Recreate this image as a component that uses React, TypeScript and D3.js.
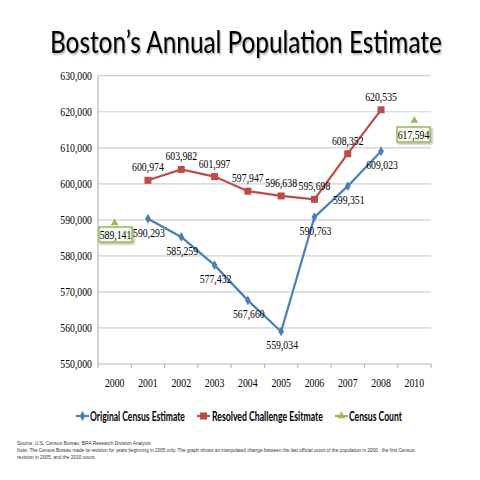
import React, { useEffect, useRef } from 'react';
import * as d3 from 'd3';

const years = ['2000', '2001', '2002', '2003', '2004', '2005', '2006', '2007', '2008', '2010'];
const originalYears = ['2001', '2002', '2003', '2004', '2005', '2006', '2007', '2008'];
const originalValues = [590293, 585259, 577432, 567660, 559034, 590763, 599351, 609023];
const resolvedValues = [600974, 603982, 601997, 597947, 596638, 595698, 608352, 620535];
const censusYears = ['2000', '2010'];
const censusValues = [589141, 617594];
const yTicks = [550000, 560000, 570000, 580000, 590000, 600000, 610000, 620000, 630000];

const BLUE = '#4a7ebb';
const RED = '#be4b48';
const GREEN = '#98b954';
const SERIF = '"Liberation Serif", "Times New Roman", serif';
const SANS = 'Lato, "Open Sans", sans-serif';

const App: React.FC = () => {
  const svgRef = useRef<SVGSVGElement>(null);

  useEffect(() => {
    if (!svgRef.current) return;
    const svg = d3.select(svgRef.current);
    svg.selectAll('*').remove();

    const width = 480;
    const height = 480;
    const left = 98, right = 431, top = 75.7, bottom = 364;

    svg.attr('width', width).attr('height', height);
    svg.append('rect').attr('width', width).attr('height', height).attr('fill', '#fff');

    const defs = svg.append('defs');
    const sh = defs.append('filter').attr('id', 'title-shadow').attr('x', '-5%').attr('y', '-30%').attr('width', '110%').attr('height', '170%');
    sh.append('feDropShadow').attr('dx', 1.5).attr('dy', 1.5).attr('stdDeviation', 1).attr('flood-color', '#000').attr('flood-opacity', 0.35);
    const bs = defs.append('filter').attr('id', 'box-shadow').attr('x', '-20%').attr('y', '-30%').attr('width', '150%').attr('height', '170%');
    bs.append('feDropShadow').attr('dx', 1.5).attr('dy', 1.5).attr('stdDeviation', 0.8).attr('flood-color', '#000').attr('flood-opacity', 0.3);

    // text squeezed horizontally to a target width (left edge at tx)
    const fitText = (tx: number, ty: number, w: number, str: string, attrs: Record<string, any>) => {
      const g = svg.append('g');
      const t = g.append('text').text(str);
      Object.entries(attrs).forEach(([k, v]) => t.attr(k, v));
      const len = (t.node() as SVGTextElement).getComputedTextLength() || w;
      g.attr('transform', `translate(${tx},${ty}) scale(${w / len},1)`);
      return g;
    };

    // Title
    fitText(50, 53, 392, 'Boston\u2019s Annual Population Estimate', {
      'font-family': SANS, 'font-size': 31, fill: '#000', filter: 'url(#title-shadow)',
    });

    const x = d3.scaleBand().domain(years).range([left, right]);
    const y = d3.scaleLinear().domain([550000, 630000]).range([bottom, top]);
    const cx = (d: string) => (x(d) as number) + x.bandwidth() / 2;
    const fmt = d3.format(',');

    // Gridlines
    svg.append('g').selectAll('line').data(yTicks.slice(1)).join('line')
      .attr('x1', left).attr('x2', right)
      .attr('y1', d => y(d)).attr('y2', d => y(d))
      .attr('stroke', '#d0d0d0').attr('stroke-width', 1.2);

    // Axes lines
    svg.append('line').attr('x1', left).attr('x2', left).attr('y1', top).attr('y2', bottom)
      .attr('stroke', '#b8b8b8').attr('stroke-width', 1.2);
    svg.append('line').attr('x1', left).attr('x2', right).attr('y1', bottom).attr('y2', bottom)
      .attr('stroke', '#b8b8b8').attr('stroke-width', 1.2);

    // x tick marks at band boundaries
    const bounds = years.map(d => x(d) as number).concat([right]);
    svg.append('g').selectAll('line').data(bounds).join('line')
      .attr('x1', d => d).attr('x2', d => d)
      .attr('y1', bottom).attr('y2', bottom + 4)
      .attr('stroke', '#b8b8b8').attr('stroke-width', 1.2);

    // Compressed serif text helper
    const serifText = (g: any, tx: number, ty: number, str: string, anchor: string) => {
      g.append('g')
        .attr('transform', `translate(${tx},${ty}) scale(0.85,1)`)
        .append('text')
        .attr('text-anchor', anchor)
        .attr('font-family', SERIF)
        .attr('font-size', 11.5)
        .attr('fill', '#000')
        .text(str);
    };

    // y labels
    const yl = svg.append('g');
    yTicks.forEach(t => serifText(yl, 92, y(t) + 4, fmt(t), 'end'));

    // x labels
    const xl = svg.append('g');
    years.forEach(yr => serifText(xl, cx(yr), 387, yr, 'middle'));

    // Lines
    const line = d3.line<[string, number]>().x(d => cx(d[0])).y(d => y(d[1]));
    const orig: [string, number][] = originalYears.map((d, i) => [d, originalValues[i]]);
    const res: [string, number][] = originalYears.map((d, i) => [d, resolvedValues[i]]);

    svg.append('path').datum(res).attr('d', line).attr('fill', 'none').attr('stroke', RED).attr('stroke-width', 2.2);
    svg.append('path').datum(orig).attr('d', line).attr('fill', 'none').attr('stroke', BLUE).attr('stroke-width', 2.2);

    // Markers
    svg.append('g').selectAll('rect').data(res).join('rect')
      .attr('x', d => cx(d[0]) - 3.5).attr('y', d => y(d[1]) - 3.5)
      .attr('width', 7).attr('height', 7).attr('fill', RED);
    const diamond = d3.symbol().type(d3.symbolDiamond).size(28);
    svg.append('g').selectAll('path').data(orig).join('path')
      .attr('transform', d => `translate(${cx(d[0])},${y(d[1])})`)
      .attr('d', diamond).attr('fill', BLUE);
    const tri = d3.symbol().type(d3.symbolTriangle).size(26);
    svg.append('g').selectAll('path').data(censusYears).join('path')
      .attr('transform', (d, i) => `translate(${cx(d)},${y(censusValues[i])})`)
      .attr('d', tri).attr('fill', GREEN);

    // Data labels
    const labels = svg.append('g');
    res.forEach(d => serifText(labels, cx(d[0]), y(d[1]) - 9, fmt(d[1]), 'middle'));
    orig.forEach(d => serifText(labels, cx(d[0]) + 1, y(d[1]) + 18, fmt(d[1]), 'middle'));

    // Census boxed labels
    const boxes = [
      { v: censusValues[0], bx: 99, by: 227 },
      { v: censusValues[1], bx: 397, by: 127 },
    ];
    boxes.forEach(b => {
      const bg = svg.append('g');
      bg.append('rect')
        .attr('x', b.bx).attr('y', b.by).attr('width', 33).attr('height', 15)
        .attr('fill', '#f7faf0').attr('stroke', GREEN).attr('stroke-width', 1.5)
        .attr('filter', 'url(#box-shadow)');
      serifText(bg, b.bx + 16.5, b.by + 11.5, fmt(b.v), 'middle');
    });

    // Legend
    const legend = [
      { label: 'Original Census Estimate', color: BLUE, x0: 76, tx: 90, tw: 95, m: 'diamond' },
      { label: 'Resolved Challenge Esitmate', color: RED, x0: 197, tx: 212, tw: 111, m: 'square' },
      { label: 'Census Count', color: GREEN, x0: 335, tx: 349, tw: 53, m: 'triangle' },
    ];
    const ly = 416;
    legend.forEach(l => {
      svg.append('line').attr('x1', l.x0).attr('x2', l.x0 + 13).attr('y1', ly).attr('y2', ly)
        .attr('stroke', l.color).attr('stroke-width', 2.2);
      const mx = l.x0 + 6.5;
      if (l.m === 'square') {
        svg.append('rect').attr('x', mx - 3.5).attr('y', ly - 3.5).attr('width', 7).attr('height', 7).attr('fill', l.color);
      } else {
        svg.append('path').attr('transform', `translate(${mx},${ly})`)
          .attr('d', l.m === 'diamond' ? diamond : tri).attr('fill', l.color);
      }
      fitText(l.tx, ly + 4.5, l.tw, l.label, {
        'font-family': SANS, 'font-weight': 700, 'font-size': 13, fill: '#000',
      });
    });

    // Footnotes
    const notes = [
      { t: 'Source: U.S. Census Bureau; BRA Research Division Analysis', w: 134 },
      { t: 'Note: The Census Bureau made its revision for years beginning in 2005 only.  The graph shows an interpolated change between the last official count of the population in 2000 , the first Census', w: 398 },
      { t: 'revision in 2005, and the 2010  count.', w: 79 },
    ];
    notes.forEach((n, i) => {
      fitText(17, 445 + i * 7.2, n.w, n.t, {
        'font-family': '"Liberation Sans", Arial, sans-serif', 'font-size': 5.6, fill: '#333',
      });
    });
  }, []);

  return <svg ref={svgRef} style={{ position: 'absolute', left: 0, top: 0 }} />;
};

export default App;
